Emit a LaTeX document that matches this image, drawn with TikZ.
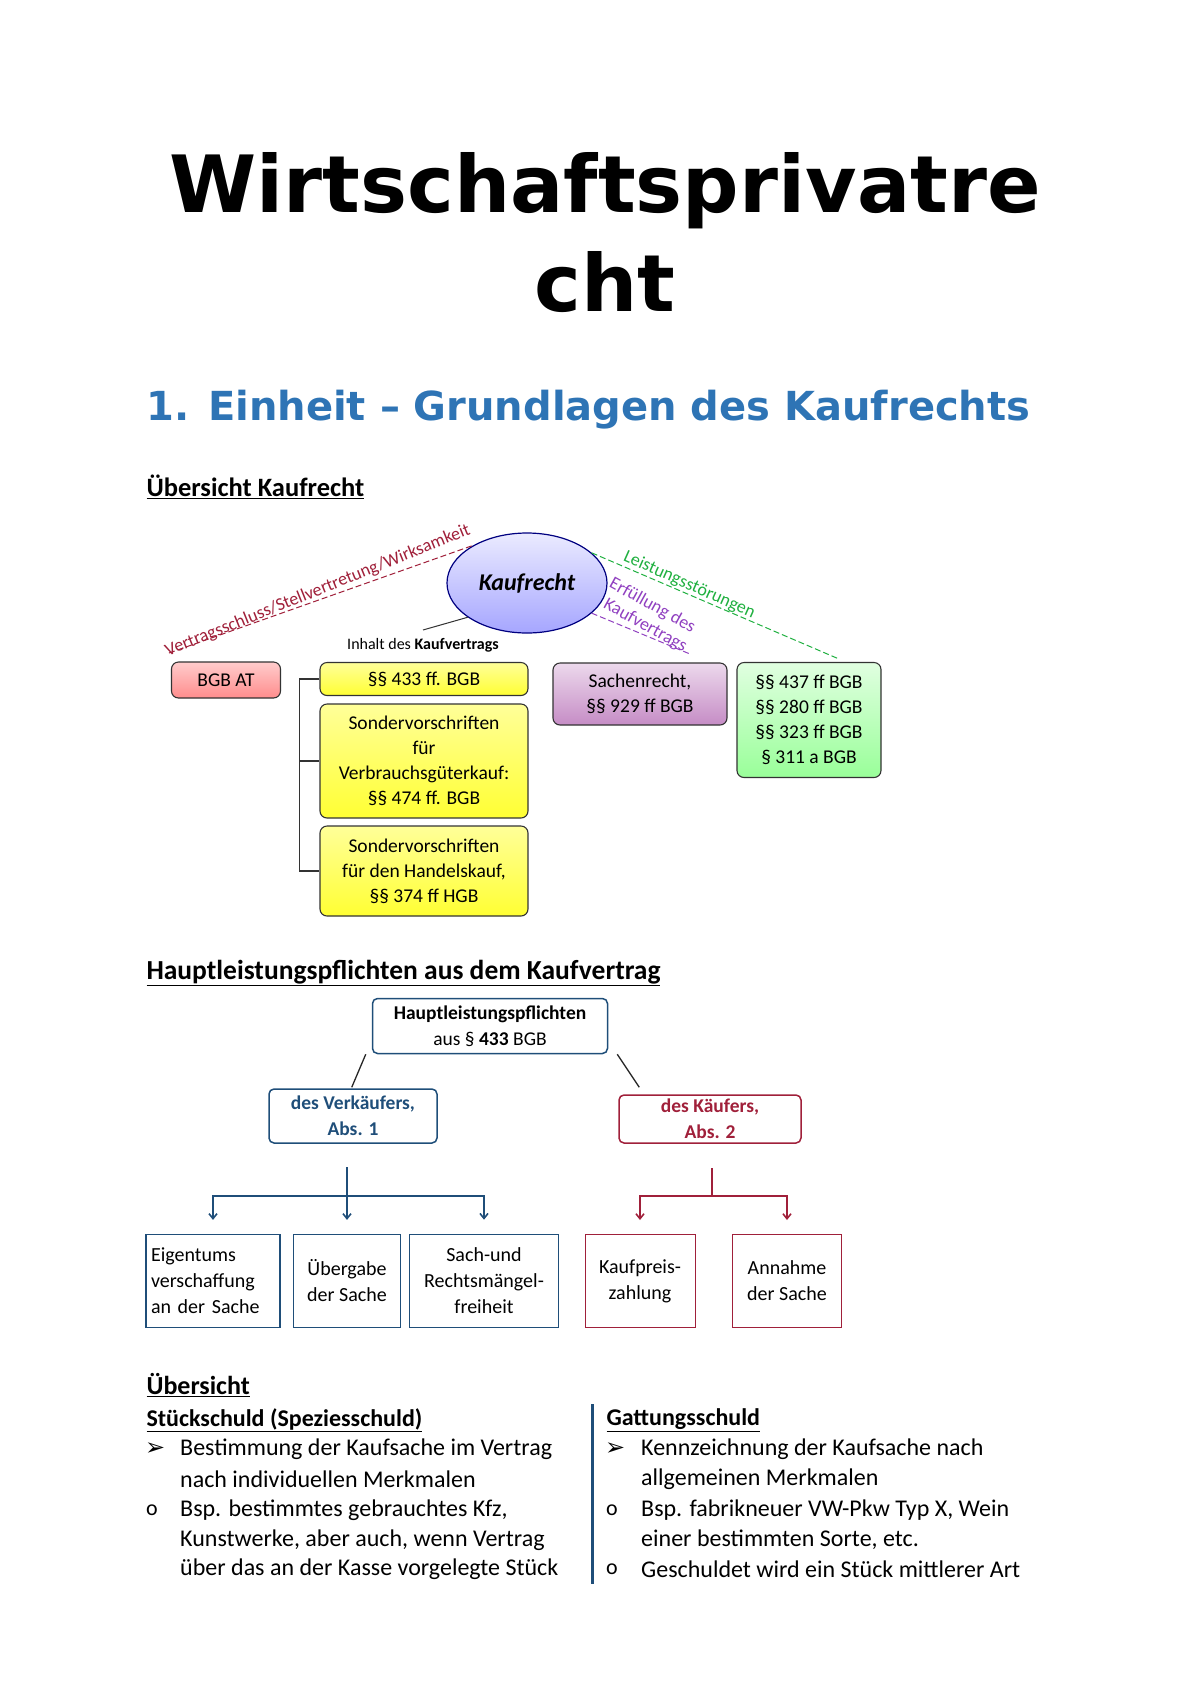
\documentclass[tikz,border=0pt]{standalone}
\usepackage{fontspec}
\setmainfont{Carlito}
\newfontfamily\dvs{DejaVu Sans}
\usetikzlibrary{arrows.meta,shapes.geometric,calc}
\definecolor{hblue}{HTML}{2E74B5}
\definecolor{dblue}{HTML}{1F4E79}
\definecolor{dred}{HTML}{A0203A}
\definecolor{vred}{HTML}{A0203A}
\definecolor{vgreen}{HTML}{20B040}
\definecolor{vpurple}{HTML}{9040C0}
\begin{document}
\begin{tikzpicture}[x=1pt,y=-1pt,
  rbox/.style={draw=black!80,rounded corners=7pt,line width=1.1pt,align=center,font=\fontsize{19.5}{25}\selectfont,inner sep=2pt},
  bbox/.style={draw=dblue,line width=1.2pt,align=center,font=\fontsize{20}{26}\selectfont,inner sep=0pt},
  kbox/.style={draw=dred,line width=1pt,align=center,font=\fontsize{20}{26}\selectfont,inner sep=0pt},
  lbl/.style={font=\fontsize{18}{19}\selectfont,inner sep=1pt},
  dsh/.style={dash pattern=on 6pt off 3pt,line width=1pt},
  body/.style={anchor=west,font=\fontsize{24}{26}\selectfont,inner sep=0pt},
  arr/.style={-{Straight Barb[length=5pt,width=8pt]},line width=1.6pt}]
\useasboundingbox (0,0) rectangle (1200,1698);
% titles
\node (t1) at (605,191) {\dvs\bfseries\fontsize{79}{90}\selectfont Wirtschaftsprivatre};
\node (t2) at (605,282) {\dvs\bfseries\fontsize{79}{90}\selectfont cht};
\node[anchor=west,text=hblue] (h1) at (143,410) {\dvs\bfseries\fontsize{40}{44}\selectfont 1. Einheit – Grundlagen des Kaufrechts};
\node[anchor=west] (h2) at (143,487) {\bfseries\fontsize{26.5}{28}\selectfont\underline{Übersicht Kaufrecht}};
% Kaufrecht diagram
\node[ellipse,draw=blue!50!black,line width=1.2pt,top color=blue!8,bottom color=blue!35!white,minimum width=160pt,minimum height=100pt] (kr) at (527,583) {\bfseries\itshape\fontsize{24}{26}\selectfont Kaufrecht};
\coordinate (rl) at (169,653);
\coordinate (gl) at (839,659);
\coordinate (pl) at (690,654);
\coordinate (il) at (423,630);
\draw[vred,dsh] (rl) -- (kr.145);
\node[lbl,text=vred,rotate=22,anchor=south] (rt) at ($(rl)!0.5!(kr.145)$) {Vertragsschluss/Stellvertretung/Wirksamkeit};
\draw[vgreen,dsh] (kr.25) -- (gl);
\node[lbl,text=vgreen,rotate=-24,anchor=south] (gt) at ($(kr.25)!0.38!(gl)$) {Leistungsstörungen};
\draw[vpurple,dsh] (kr.-25) -- (pl);
\coordinate (pm) at ($(kr.-25)!0.5!(pl)$);
\node[lbl,text=vpurple,rotate=-29,anchor=south] (pt2) at (pm) {Kaufvertrags};
\node[lbl,text=vpurple,rotate=-29,anchor=south] (pt1) at ($(pm)+(7,-20)$) {Erfüllung des};
\draw[black!80,line width=1pt] (kr.210) -- (il);
\node[font=\fontsize{16}{18}\selectfont] (inh) at (423,645) {Inhalt des \textbf{Kaufvertrags}};
\node[rbox,top color=red!20,bottom color=red!45,minimum width=109pt,minimum height=36pt] (bgb) at (226,680) {BGB AT};
\node[rbox,top color=yellow!40,bottom color=yellow!80,minimum width=208pt,minimum height=33pt] (y1) at (424,679) {§§ 433 ff. BGB};
\node[rbox,top color=yellow!40,bottom color=yellow!80,minimum width=208pt,minimum height=114pt] (y2) at (424,761) {Sondervorschriften\\für\\Verbrauchsgüterkauf:\\§§ 474 ff. BGB};
\node[rbox,top color=yellow!40,bottom color=yellow!80,minimum width=208pt,minimum height=90pt] (y3) at (424,871) {Sondervorschriften\\für den Handelskauf,\\§§ 374 ff HGB};
\node[rbox,top color=violet!15,bottom color=violet!45,minimum width=174pt,minimum height=62pt] (pu) at (640,694) {Sachenrecht,\\§§ 929 ff BGB};
\node[rbox,top color=green!12,bottom color=green!40,minimum width=144pt,minimum height=115pt] (gr) at (809,720) {§§ 437 ff BGB\\§§ 280 ff BGB\\§§ 323 ff BGB\\§ 311 a BGB};
\draw[black!80,line width=1.3pt] (y1.west) -- ++(-20,0) |- (y3.west);
\draw[black!80,line width=1.3pt] ([xshift=-20pt]y2.west) -- (y2.west);
% second section
\node[anchor=west] (h3) at (143,973) {\bfseries\fontsize{27.5}{30}\selectfont\underline{Hauptleistungspflichten aus dem Kaufvertrag}};
\node[draw=dblue,line width=1.5pt,rounded corners=5pt,minimum width=235pt,minimum height=55pt,align=center,font=\fontsize{19.5}{26}\selectfont] (hp) at (490,1026) {\textbf{Hauptleistungspflichten}\\aus § \textbf{433} BGB};
\node[draw=dblue,line width=1.5pt,rounded corners=5pt,minimum width=168pt,minimum height=54pt,align=center,text=dblue,font=\bfseries\fontsize{19.5}{26}\selectfont] (vk) at (353,1116) {des Verkäufers,\\Abs. 1};
\node[draw=dred,line width=1.5pt,rounded corners=5pt,minimum width=182pt,minimum height=48pt,align=center,text=dred,font=\bfseries\fontsize{19.5}{26}\selectfont] (kf) at (710,1119) {des Käufers,\\Abs. 2};
\draw[black!85,line width=1.3pt] ([xshift=-6pt]hp.south west) -- ([xshift=-20pt,yshift=-33pt]hp.south west);
\draw[black!85,line width=1.3pt] ([xshift=9pt]hp.south east) -- ([xshift=31pt,yshift=-33pt]hp.south east);
\node[bbox,minimum width=134pt,minimum height=93pt,text width=124pt,align=left] (b1) at (213,1281) {Eigentums\\verschaffung\\an der Sache};
\node[bbox,minimum width=107pt,minimum height=93pt] (b2) at (347,1281) {Übergabe\\der Sache};
\node[bbox,minimum width=149pt,minimum height=93pt,line width=1.6pt] (b3) at (484,1281) {Sach-und\\Rechtsmängel-\\freiheit};
\node[kbox,minimum width=110pt,minimum height=93pt] (r1) at (640,1281) {Kaufpreis-\\zahlung};
\node[kbox,minimum width=109pt,minimum height=93pt] (r2) at (787,1281) {Annahme\\der Sache};
\coordinate (bv) at (347,1167);
\coordinate (bh) at (347,1196);
\coordinate (rv) at (712,1168);
\coordinate (rh) at (712,1196);
\draw[dblue,line width=1.6pt] (bv) -- (bh);
\draw[dblue,arr] (bh) -- ([yshift=14pt]b2.north);
\draw[dblue,arr] (bh) -| ([yshift=14pt]b1.north);
\draw[dblue,arr] (bh) -| ([yshift=14pt]b3.north);
\draw[dred,line width=1.6pt] (rv) -- (rh);
\draw[dred,arr] (rh) -| ([yshift=14pt]r1.north);
\draw[dred,arr] (rh) -| ([yshift=14pt]r2.north);
% third section
\node[anchor=west] (h4) at (143,1385) {\bfseries\fontsize{26}{28}\selectfont\underline{Übersicht}};
\node[anchor=west] (h5) at (143,1420) {\bfseries\fontsize{24}{26}\selectfont\underline{Stückschuld (Speziesschuld)}};
\node[anchor=west] (h6) at (603,1420) {\bfseries\fontsize{24}{26}\selectfont\underline{Gattungsschuld}};
\coordinate (dv1) at (592,1404);
\coordinate (dv2) at (592,1584);
\draw[dblue,line width=3pt] (dv1) -- (dv2);
\node[body] (m1) at (145,1449) {\dvs\fontsize{24}{26}\selectfont ➢};
\node[body] (l1) at (180,1449) {Bestimmung der Kaufsache im Vertrag};
\node[body] (l2) at (180,1479) {nach individuellen Merkmalen};
\node[body] (m2) at (146,1510) {\fontsize{22}{26}\selectfont o};
\node[body] (l3) at (180,1510) {Bsp. bestimmtes gebrauchtes Kfz,};
\node[body] (l4) at (180,1540) {Kunstwerke, aber auch, wenn Vertrag};
\node[body] (l5) at (180,1569) {über das an der Kasse vorgelegte Stück};
\node[body] (m3) at (605,1449) {\dvs\fontsize{24}{26}\selectfont ➢};
\node[body] (k1) at (641,1449) {Kennzeichnung der Kaufsache nach};
\node[body] (k2) at (641,1479) {allgemeinen Merkmalen};
\node[body] (m4) at (606,1510) {\fontsize{22}{26}\selectfont o};
\node[body] (k3) at (641,1510) {Bsp. fabrikneuer VW-Pkw Typ X, Wein};
\node[body] (k4) at (641,1540) {einer bestimmten Sorte, etc.};
\node[body] (m5) at (606,1569) {\fontsize{22}{26}\selectfont o};
\node[body] (k5) at (641,1569) {Geschuldet wird ein Stück mittlerer Art};
\end{tikzpicture}
\end{document}
